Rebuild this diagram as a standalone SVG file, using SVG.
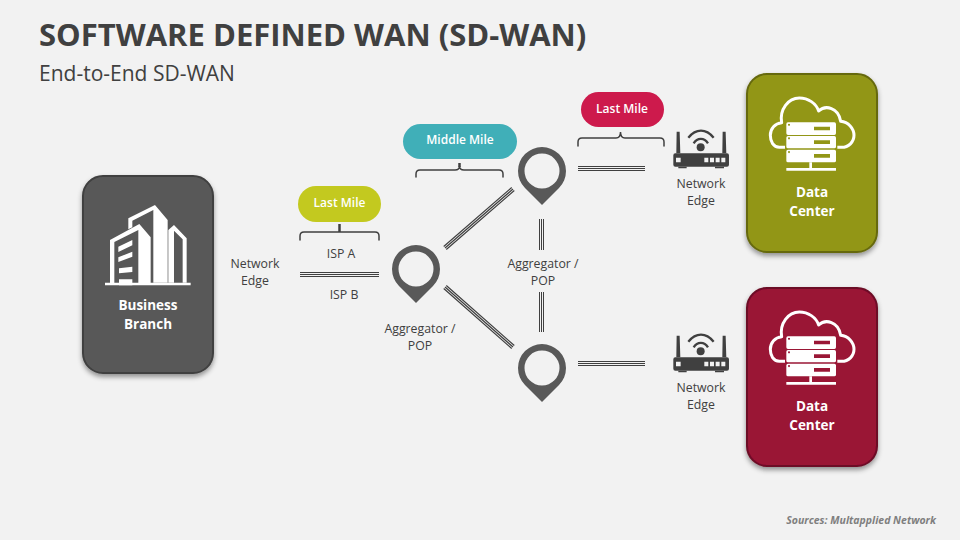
<svg xmlns="http://www.w3.org/2000/svg" xmlns:xlink="http://www.w3.org/1999/xlink" width="960" height="540" viewBox="0 0 960 540">
<style>
text{font-family:"Open Sans","Liberation Sans",sans-serif}
.lbl{font-size:12.300px;fill:#404040;text-anchor:middle}
.pill{font-size:12px;font-weight:600;fill:#fff;text-anchor:middle}
.box{font-size:13.500px;font-weight:700;fill:#fff;text-anchor:middle}
.tri{fill:none;stroke:#404040;stroke-width:1.200}
.crisp{fill:none;stroke:#404040;stroke-width:1;shape-rendering:crispEdges}
.brace{fill:none;stroke:#404040;stroke-width:1.500;stroke-linecap:round}
.stem{fill:none;stroke:#404040;stroke-width:2.500}
.card{stroke-width:2;filter:url(#sh)}
</style>
<defs>
<filter id="sh" x="-15%" y="-15%" width="130%" height="130%"><feDropShadow dx="0" dy="3" stdDeviation="2.500" flood-color="#000" flood-opacity=".4"/></filter>
<path id="pin" fill="#595959" fill-rule="evenodd" d="M-17 17A24 24 0 1 1 17 17L0 34ZM0-17.500A17.500 17.500 0 1 0 0 17.500A17.500 17.500 0 1 0 0-17.500Z"/>
<g id="cloud" transform="scale(.3333)">
<path fill="none" stroke="#fff" stroke-width="9" stroke-linejoin="round" d="M135 232H118C100 232 91 215 91 196C91 176 105 160 125 158C118 118 145 84 178 84C205 84 228 100 236 123C256 104 296 112 302 154C325 156 342 175 342 196C342 216 326 232 305 232H292"/>
<path fill="#fff" fill-rule="evenodd" d="M144 157H283A5 5 0 0 1 288 162V190A5 5 0 0 1 283 195H144A5 5 0 0 1 139 190V162A5 5 0 0 1 144 157ZM222 170V181H270V170ZM147 161A3 3 0 1 0 147.100 161Z"/>
<path fill="#fff" fill-rule="evenodd" d="M144 198H283A5 5 0 0 1 288 203V230A5 5 0 0 1 283 235H144A5 5 0 0 1 139 230V203A5 5 0 0 1 144 198ZM222 211V222H270V211ZM147 202A3 3 0 1 0 147.100 202Z"/>
<path fill="#fff" fill-rule="evenodd" d="M144 239H283A5 5 0 0 1 288 244V272A5 5 0 0 1 283 277H144A5 5 0 0 1 139 272V244A5 5 0 0 1 144 239ZM222 252V263H270V252ZM147 243A3 3 0 1 0 147.100 243Z"/>
<path fill="#fff" d="M208 277H216V294H288V302H139V294H208Z"/>
</g>
<g id="router" transform="scale(.3333)">
<path fill="#404040" fill-rule="evenodd" d="M316 205H471A6 6 0 0 1 477 211V239A6 6 0 0 1 471 245H316A6 6 0 0 1 310 239V211A6 6 0 0 1 316 205ZM318 218V232H332V218ZM403 218V232H415V218ZM420 218V232H432V218ZM437 218V232H449V218ZM454 218V232H466V218Z"/>
<path fill="#404040" d="M320 140H329L331 205H319ZM458 140H467L469 205H457ZM325 245H350V250H325ZM435 245H462V250H435Z"/>
<circle cx="392" cy="187" r="12" fill="#404040"/>
<path fill="none" stroke="#404040" stroke-width="7" d="M355 158C378 130 408 130 431 158M371 175C382 157 403 157 414 175"/>
</g>
</defs>
<rect width="960" height="540" fill="#f2f2f2"/>
<text x="39" y="46" font-size="31" font-weight="700" fill="#404040">SOFTWARE DEFINED WAN (SD-WAN)</text>
<text x="39" y="81" font-size="21" fill="#404040">End-to-End SD-WAN</text>
<g id="connectors">
<path class="crisp" d="M300 272.500H379M300 274.500H379M300 276.500H379"/>
<path class="tri" d="M443.700 246.500L511.700 187.500M445 248L513 189M446.300 249.500L514.300 190.500"/>
<path class="tri" d="M446.300 285.500L514.300 345.500M445 287L513 347M443.700 288.500L511.700 348.500"/>
<path class="crisp" d="M539.500 219V250M541.500 219V250M543.500 219V250M539.500 292V332M541.500 292V332M543.500 292V332"/>
<path class="crisp" d="M578 166.500H645M578 168.500H645M578 170.500H645M578 361.500H645M578 363.500H645M578 365.500H645"/>
</g>
<g id="business-branch">
<rect class="card" x="83" y="176" width="130" height="197" rx="20" fill="#595959" stroke="#404040"/>
<g transform="translate(100 200) scale(.3333)" fill="#fff">
<path d="M15 248H272V256H15Z"/>
<path d="M85 88V55L165 15L203 60V248H160V30L97 62V82Z"/>
<path d="M205 90L222 75L260 115V248H248V118L222 92V248H205Z"/>
<path d="M30 120L118 72L152 112V250H115V90L43 126V250H30Z"/>
<path d="M55 140L97 120V136L55 156ZM55 172L97 155V170L55 186ZM57 205L97 200V216L57 220ZM57 238H97V256H57Z"/>
</g>
<text class="box" x="148" y="310">Business</text>
<text class="box" x="148" y="329">Branch</text>
</g>
<g id="dc-top">
<rect class="card" x="747" y="74" width="130" height="178" rx="20" fill="#929617" stroke="#66690f"/>
<use xlink:href="#cloud" href="#cloud" transform="translate(740 70)"/>
<text class="box" x="812" y="197">Data</text>
<text class="box" x="812" y="216">Center</text>
</g>
<g id="dc-bottom">
<rect class="card" x="747" y="288" width="130" height="178" rx="20" fill="#9a1236" stroke="#6c0d26"/>
<use xlink:href="#cloud" href="#cloud" transform="translate(740 284)"/>
<text class="box" x="812" y="411">Data</text>
<text class="box" x="812" y="430">Center</text>
</g>
<g id="last-mile-a">
<rect x="298" y="186" width="83" height="36" rx="18" fill="#c3c91f"/>
<text class="pill" x="339.500" y="207">Last Mile</text>
<path class="brace" d="M300 240V236Q300 232 304 232H375Q379 232 379 236V240"/>
<path class="stem" d="M339.500 224V232"/>
</g>
<g id="middle-mile">
<rect x="403" y="124" width="114" height="35" rx="17.500" fill="#40afb8"/>
<text class="pill" x="460" y="144">Middle Mile</text>
<path class="brace" d="M416 177V174Q416 170 420 170H455Q459.500 170 459.500 166Q459.500 170 464 170H499Q503 170 503 174V177"/>
<path class="stem" d="M459.500 163V167"/>
</g>
<g id="last-mile-b">
<rect x="581" y="92" width="83" height="35" rx="17.500" fill="#cd1a4c"/>
<text class="pill" x="622" y="113">Last Mile</text>
<path class="brace" d="M578 146V142Q578 138 582 138H616Q620.500 138 620.500 132Q620.500 138 625 138H660Q664 138 664 142V146"/>
</g>
<g id="pop-a"><use xlink:href="#pin" href="#pin" x="416" y="269"/><text class="lbl" x="420" y="333">Aggregator /</text><text class="lbl" x="420" y="350">POP</text></g>
<g id="pop-b"><use xlink:href="#pin" href="#pin" x="542" y="171"/><text class="lbl" x="543" y="268">Aggregator /</text><text class="lbl" x="543" y="285">POP</text></g>
<g id="pop-c"><use xlink:href="#pin" href="#pin" x="542" y="368"/></g>
<g id="edge-left"><text class="lbl" x="255" y="268">Network</text><text class="lbl" x="255" y="285">Edge</text></g>
<g id="isp-a"><text class="lbl" x="341" y="258">ISP A</text></g>
<g id="isp-b"><text class="lbl" x="344" y="299">ISP B</text></g>
<g id="edge-top"><use xlink:href="#router" href="#router" transform="translate(570 85)"/><text class="lbl" x="701" y="188">Network</text><text class="lbl" x="701" y="205">Edge</text></g>
<g id="edge-bottom"><use xlink:href="#router" href="#router" transform="translate(570 289)"/><text class="lbl" x="701" y="392">Network</text><text class="lbl" x="701" y="409">Edge</text></g>
<text x="936" y="524" font-size="10.500" font-weight="700" font-style="italic" fill="#7f7f7f" text-anchor="end">Sources: Multapplied Network</text>
</svg>
